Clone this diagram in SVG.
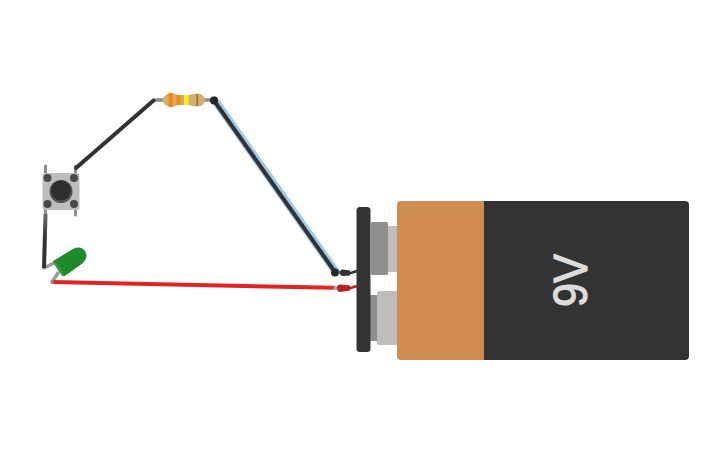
<svg xmlns="http://www.w3.org/2000/svg" width="725" height="453" viewBox="0 0 725 453">
<style>
.w{fill:none;stroke-linecap:round;stroke-linejoin:round}
.lead{fill:none;stroke:#8c8c8c;stroke-width:3;stroke-linecap:round}
.pad{fill:#4a4a4a}
.dark{fill:#333333}
</style>
<defs>
<linearGradient id="fade" gradientUnits="userSpaceOnUse" x1="45" y1="214" x2="45" y2="240"><stop offset="0" stop-color="#6a6a6a"/><stop offset="1" stop-color="#333333"/></linearGradient>
</defs>
<rect width="725" height="453" fill="#ffffff"/>
<g id="battery">
<rect x="388" y="226" width="12" height="46" fill="#bdbdbd"/>
<rect x="371" y="222" width="17" height="53" rx="1.5" fill="#8f8f8f"/>
<rect x="370" y="295" width="9" height="46" fill="#8f8f8f"/>
<rect x="377" y="291" width="23" height="54" rx="2" fill="#bdbdbd"/>
<rect x="356.500" y="207" width="14" height="145" rx="3.500" class="dark"/>
<path d="M484 201H401a4 4 0 0 0-4 4V356a4 4 0 0 0 4 4H484Z" fill="#d08c52"/>
<path d="M484 201H685a4 4 0 0 1 4 4V356a4 4 0 0 1-4 4H484Z" class="dark"/>
<text transform="translate(587 307) rotate(-90)" font-family="'Liberation Sans',Arial,sans-serif" font-size="49" textLength="53" lengthAdjust="spacingAndGlyphs" fill="#dcdcdc" stroke="#dcdcdc" stroke-width="1.200" stroke-linejoin="round">9V</text>
</g>
<g id="pushbutton">
<path class="lead" d="M45.500 166V175M75.500 166V175M45.500 208V215M75.500 208V215"/>
<rect x="42.500" y="173" width="37" height="37" rx="2.500" fill="#bdbdbd"/>
<circle cx="47.500" cy="178" r="4" class="pad"/>
<circle cx="74" cy="178" r="4" class="pad"/>
<circle cx="47.500" cy="204" r="4" class="pad"/>
<circle cx="74" cy="204" r="4" class="pad"/>
<circle cx="61" cy="191.500" r="11.500" fill="#555555"/>
<circle cx="61" cy="190.500" r="10" fill="#2f2f2f"/>
</g>
<g id="led">
<path d="M44 268L56 262M52 282L58 273" fill="none" stroke="#9a9a9a" stroke-width="3.500" stroke-linecap="round"/>
<path d="M54 260.500L72 249.500Q80 245 85 251Q89 257 83 263L65.500 275.500Q63 277 61.500 275L53.500 263Q53 261 54 260.500Z" fill="#1f8a2a"/>
<path d="M55 262.500L63.500 275" stroke="#4aa352" stroke-width="1.200" fill="none"/>
</g>
<g id="resistor">
<path d="M154 100H163M204 100H213" stroke="#8c8c8c" stroke-width="3.500" fill="none"/>
<path d="M162.500 100Q164 94 170 93.500Q175 93.500 178 95H189Q193 93.500 198 93.500Q204 94 205 100Q204 106.500 198 106.500Q193 106.500 189 105H178Q175 106.500 170 106.500Q164 106.500 162.500 100Z" fill="#d2ae72"/>
<rect x="168.500" y="93" width="4.500" height="14" fill="#f5880f"/>
<rect x="176.500" y="95" width="4" height="10" fill="#f5880f"/>
<rect x="184" y="95" width="4.500" height="10" fill="#f7f01c"/>
<rect x="196.500" y="94" width="1.500" height="12" fill="#8a6b1e"/>
</g>
<g id="connectors">
<path class="w" d="M76 168L153.500 100.500" stroke="#333333" stroke-width="4"/>
<path d="M45.500 214L44 268" fill="none" stroke="url(#fade)" stroke-width="4"/>
<path class="w" d="M215 100.500L336 272" stroke="#9cc8ec" stroke-width="8"/>
<path class="w" d="M214 100.500L335 272" stroke="#333333" stroke-width="4"/>
<path d="M53 282L335 287.800" fill="none" stroke="#e32222" stroke-width="4"/>
<circle cx="214" cy="100.500" r="4" fill="#262626"/>
<circle cx="335" cy="272.500" r="4" fill="#262626"/>
<path d="M338 272.500H341" stroke="#555" stroke-width="2.500"/>
<path d="M340 272.500Q340 269 343 269.500L350 270.500V275.500L343 276Q340 276 340 272.500Z" fill="#333333"/>
<path d="M349 273.500L357 271" fill="none" stroke="#333333" stroke-width="2.500"/>
<path d="M333 288H339" stroke="#999" stroke-width="3"/>
<path d="M337 288Q337 284.500 340 284.500L350 285.500V290.500L340 292Q337 292 337 288Z" fill="#bb2020"/>
<path d="M349 288.500L357 286" fill="none" stroke="#bb2020" stroke-width="2.500"/>
<path d="M51 282H54" stroke="#a08080" stroke-width="3"/>
</g>
</svg>
